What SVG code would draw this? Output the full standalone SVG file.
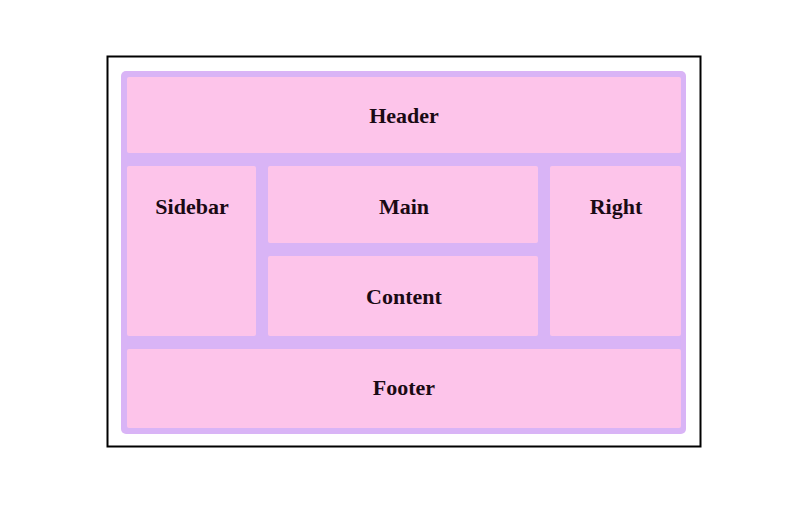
<svg xmlns="http://www.w3.org/2000/svg" width="800" height="517" viewBox="0 0 800 517">
<style>
.cell{fill:#fdc4ea}
.t{font-family:"Liberation Serif",serif;font-weight:bold;font-size:22px;fill:#1a0a14;text-anchor:middle}
</style>
<rect width="800" height="517" fill="#fff"/>
<rect x="107.5" y="56.5" width="593" height="390" fill="#fff" stroke="#000" stroke-width="2"/>
<rect x="121" y="71" width="565" height="363" rx="5" fill="#d9b4f6"/>
<g id="header"><rect class="cell" x="127" y="77" width="554" height="76" rx="2"/><text class="t" x="404" y="123">Header</text></g>
<g id="sidebar"><rect class="cell" x="127" y="166" width="129" height="170" rx="2"/><text class="t" x="192" y="214">Sidebar</text></g>
<g id="main"><rect class="cell" x="268" y="166" width="270" height="77" rx="2"/><text class="t" x="404" y="214">Main</text></g>
<g id="content"><rect class="cell" x="268" y="256" width="270" height="80" rx="2"/><text class="t" x="404" y="304">Content</text></g>
<g id="right"><rect class="cell" x="550" y="166" width="131" height="170" rx="2"/><text class="t" x="616" y="214">Right</text></g>
<g id="footer"><rect class="cell" x="127" y="349" width="554" height="79" rx="2"/><text class="t" x="404" y="395">Footer</text></g>
<g id="connectors"></g>
</svg>
